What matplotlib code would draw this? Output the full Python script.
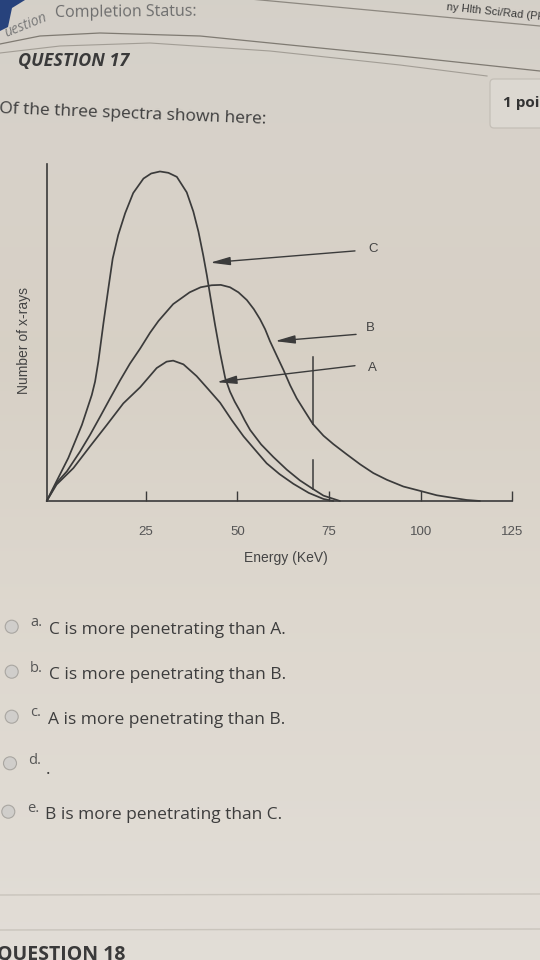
import numpy as np
import matplotlib
matplotlib.use("Agg")
import matplotlib.pyplot as plt
from matplotlib.patches import Circle, Polygon, FancyBboxPatch

# ---------------- data ----------------
energy_A = [-2, 0.7, 5.3, 9.8, 14.4, 18.9, 23.5, 28.0, 30.7, 32.5, 35.3, 38.9, 42.0,
            45.3, 48.5, 51.7, 55.0, 58.0, 61.5, 65.3, 69.5, 73.5, 76.2]
count_A = [0, 4.9, 9.8, 16.2, 22.6, 29.0, 33.8, 39.5, 41.4, 41.7, 40.6, 37.1, 33.3,
           29.2, 24.0, 19.2, 15.0, 11.2, 8.0, 5.1, 2.4, 0.6, 0]

energy_B = [-2, 0.7, 3.5, 7.1, 9.8, 12.6, 15.3, 18.0, 20.7, 23.5, 26.2, 28.5, 32.5,
            37.0, 40.0, 43.0, 45.5, 48.0, 50.3, 52.6, 54.5, 56.2, 57.6, 58.9, 60.7,
            62.6, 64.4, 66.2, 68.5, 70.6, 73.5, 76.2, 79.8, 83.5, 87.1, 90.8, 95.3,
            99.9, 104.4, 109.0, 112.6, 116.2]
count_B = [0, 5.4, 8.8, 14.7, 19.6, 25.1, 30.5, 35.8, 40.8, 45.3, 50.0, 53.5, 58.5,
           62.0, 63.5, 64.1, 64.2, 63.5, 62.0, 59.7, 57.0, 54.0, 51.0, 47.5, 43.3,
           38.9, 34.4, 30.5, 26.5, 22.9, 19.4, 16.9, 13.9, 10.9, 8.3, 6.3, 4.3,
           3.0, 1.7, 0.9, 0.3, 0]

energy_C = [-2, 0.7, 3.9, 7.6, 10.3, 11.2, 12.1, 13.5, 14.8, 16.0, 17.5, 19.4, 21.6,
            24.4, 26.5, 28.9, 31.2, 33.5, 36.2, 38.0, 39.4, 40.7, 41.7, 42.6, 43.9,
            45.3, 46.7, 48.0, 49.3, 50.7, 52.0, 53.5, 56.5, 59.8, 63.5, 67.1, 70.6,
            73.5, 78.0]
count_C = [0, 5.9, 12.8, 22.6, 31.5, 35.5, 41.5, 53.0, 63.0, 72.0, 79.0, 85.5, 91.5,
           95.8, 97.3, 97.9, 97.5, 96.3, 91.7, 86.0, 80.0, 73.0, 67.0, 61.0, 52.5,
           44.0, 36.5, 32.5, 29.5, 26.8, 24.0, 21.1, 16.8, 13.1, 9.3, 6.1, 3.6,
           1.6, 0]

edge_energy = 70.6
edge_upper = [22.9, 42.7]
edge_lower = [3.6, 12.2]

spectrum_labels = ["C", "B", "A"]
arrow_tails = [(82.1, 74.3), (82.4, 49.5), (82.1, 40.2)]
arrow_heads = [(42.6, 70.8), (60.3, 47.5), (44.4, 35.3)]
label_pos = [(85.7, 74.8), (85.0, 51.3), (85.6, 39.4)]

x_ticks = [25, 50, 75, 100, 125]
x_tick_labels = ["25", "50", "75", "100", "125"]

option_letters = ["a.", "b.", "c.", "d.", "e."]
option_texts = ["C is more penetrating than A.", "C is more penetrating than B.",
                "A is more penetrating than B.", "", "B is more penetrating than C."]

# ---------------- figure ----------------
W, H = 540, 960
fig = plt.figure(figsize=(W / 100, H / 100), dpi=100)

bg = fig.add_axes([0, 0, 1, 1])
bg.set_xlim(0, W)
bg.set_ylim(H, 0)
bg.axis("off")

# paper background (vertical shading of the photo)
stops_y = [0, 150, 350, 600, 960]
stops_c = np.array([[0.835, 0.818, 0.788], [0.845, 0.823, 0.790], [0.843, 0.816, 0.775],
                    [0.868, 0.845, 0.808], [0.886, 0.868, 0.843]])
yy = np.arange(H)
grad = np.stack([np.interp(yy, stops_y, stops_c[:, k]) for k in range(3)], axis=-1)
bg.imshow(grad[:, None, :], extent=[0, W, H, 0], aspect="auto", zorder=0)

ink = "#3a3a3a"
ui = "Open Sans"

# top-left blue corner
bg.add_patch(Polygon([(0, 0), (25, 0), (12, 8), (8, 27), (0, 31)], closed=True,
                     facecolor="#27427c", edgecolor="none", zorder=2))

# header lines
bg.plot([250, 540], [-1, 26], color="#8d8880", lw=0.9, zorder=2)
bg.plot([0, 40, 100, 200, 270, 400, 540], [44, 36, 33, 36, 43, 56, 71],
        color="#7f7a72", lw=0.9, zorder=2)
bg.plot([0, 60, 150, 270, 400, 487], [53, 46, 43, 51, 65, 76],
        color="#a29d95", lw=0.8, zorder=2)
bg.add_patch(FancyBboxPatch((490, 79), 80, 49, boxstyle="round,pad=0,rounding_size=4",
                            facecolor="#dcd8d1", edgecolor="#c4bfb7", lw=0.9, zorder=2))

bg.text(26, 25, "uestion", fontsize=10, family=ui, style="italic", color="#7a7a7a",
        rotation=22, ha="center", va="center", rotation_mode="anchor", zorder=3)
bg.text(55, 12, "Completion Status:", fontsize=11.5, family=ui, color="#6e6e6e",
        ha="left", va="center", rotation=0.5, zorder=3)
bg.text(447, 7, "ny Hlth Sci/Rad (PH", fontsize=8, family="Liberation Sans",
        color="#3a3a3a", ha="left", va="center", rotation=-6,
        rotation_mode="anchor", zorder=3)
bg.text(18, 61, "QUESTION 17", fontsize=13, family=ui, weight="bold", style="italic",
        color="#3a3a3a", ha="left", va="center", zorder=3)
bg.text(133, 114, "Of the three spectra shown here:", fontsize=12.5, family=ui,
        color="#3d3d3d", ha="center", va="center", rotation=-2.3,
        rotation_mode="anchor", zorder=3)
bg.text(503, 103, "1 poi", fontsize=11, family=ui, weight="bold", color="#333333",
        ha="left", va="center", zorder=3)

# answer options
circ_xy = [(11.7, 626.7), (11.7, 671.7), (11.7, 716.7), (10.0, 763.3), (8.3, 811.7)]
letter_xy = [(30, 623), (30, 668), (30, 713), (28, 761), (27, 808)]
text_xy = [(49, 630), (49, 675), (48, 720), (46, 770), (45, 815)]
for i in range(5):
    bg.add_patch(Circle(circ_xy[i], 6.5, facecolor="#d0cecb", edgecolor="#a9a6a1",
                        lw=0.8, zorder=3))
    bg.text(letter_xy[i][0], letter_xy[i][1], option_letters[i], fontsize=10.5,
            family=ui, color="#555555", ha="left", va="center", zorder=3)
    t = option_texts[i] if option_texts[i] else "."
    bg.text(text_xy[i][0], text_xy[i][1], t, fontsize=12.5, family=ui,
            color="#3d3d3d", ha="left", va="center", zorder=3)

bg.plot([0, 540], [895, 894], color="#c9c4bc", lw=1.0, zorder=2)
bg.plot([0, 540], [930, 929], color="#c9c4bc", lw=1.0, zorder=2)
bg.text(-3, 945, "QUESTION 18", fontsize=14, family=ui, weight="bold",
        color="#3a3a3a", ha="left", va="top", zorder=3)

# ---------------- chart ----------------
x0, x1 = 46.7, 512.25
ybase, ytop = 501.0, 164.4
ax = fig.add_axes([x0 / W, 1 - ybase / H, (x1 - x0) / W, (ybase - ytop) / H])
ax.patch.set_alpha(0)
ax.set_xlim(-2, 125)
ax.set_ylim(0, 100)
for s in ["top", "right"]:
    ax.spines[s].set_visible(False)
for s in ["left", "bottom"]:
    ax.spines[s].set_color(ink)
    ax.spines[s].set_linewidth(1.2)
ax.set_yticks([])
ax.set_xticks(x_ticks)
ax.set_xticklabels(x_tick_labels, family="Liberation Sans", fontsize=9.5, color="#555555")
ax.tick_params(axis="x", direction="in", length=7, width=1, color=ink, pad=18)

lc = "#3b3b3b"
lw = 1.25
for ex, cy in [(energy_C, count_C), (energy_B, count_B), (energy_A, count_A)]:
    ax.plot(ex, cy, color=lc, lw=lw, solid_capstyle="round",
            solid_joinstyle="round", clip_on=False)
ax.plot([edge_energy, edge_energy], edge_upper, color=lc, lw=1.1)
ax.plot([edge_energy, edge_energy], edge_lower, color=lc, lw=1.1)

for lab, tail, head, lp in zip(spectrum_labels, arrow_tails, arrow_heads, label_pos):
    ax.annotate("", xy=head, xytext=tail,
                arrowprops=dict(arrowstyle="-|>,head_length=1.2,head_width=0.25",
                                color=lc, lw=1.0, shrinkA=0, shrinkB=0,
                                mutation_scale=10))
    ax.text(lp[0], lp[1], lab, fontsize=9.5, family="Liberation Sans",
            color="#444444", ha="left", va="center")

ax.set_xlabel("Energy (KeV)", family="Liberation Sans", fontsize=10, color="#444444")
ax.xaxis.set_label_coords((286 - x0) / (x1 - x0), (ybase - 558) / (ybase - ytop))
ax.xaxis.label.set_va("center")
ax.set_ylabel("Number of x-rays", family="Liberation Sans", fontsize=10, color="#444444")
ax.yaxis.set_label_coords((24 - x0) / (x1 - x0), (ybase - 341) / (ybase - ytop))
ax.yaxis.label.set_va("center")

fig.savefig("out.png", dpi=100)
